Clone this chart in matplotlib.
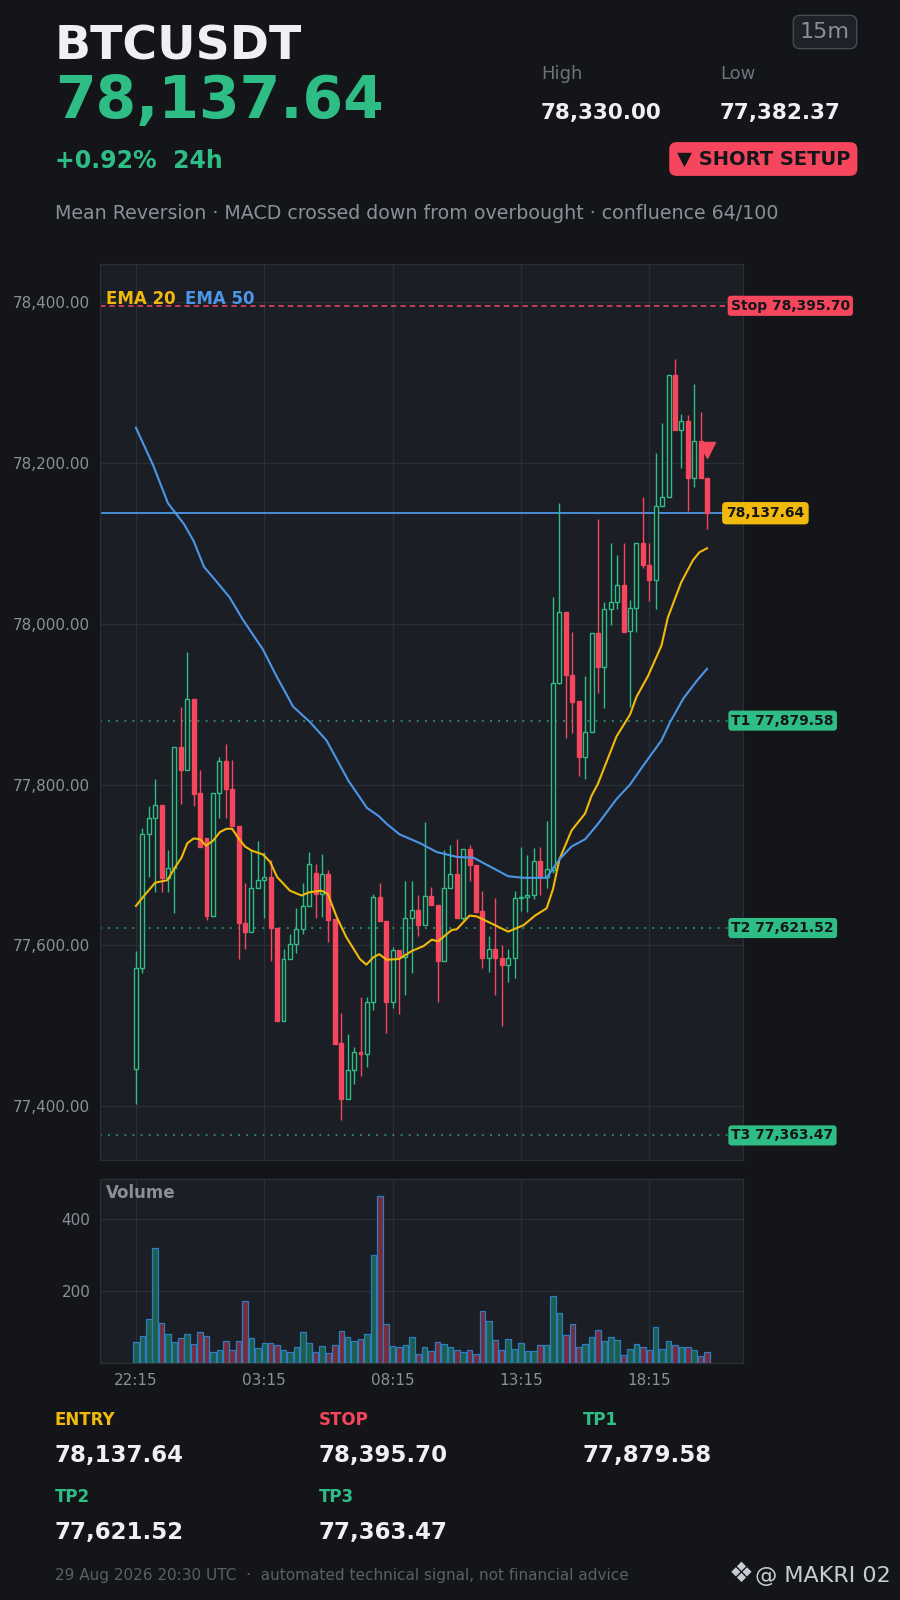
import numpy as np
import matplotlib.pyplot as plt
from matplotlib.ticker import FuncFormatter

# ---- header / signal values ----
symbol = "BTCUSDT"
timeframe = "15m"
last_price = 78137.64
change_24h = "+0.92%"
day_high = 78330.00
day_low = 77382.37
setup_text = "\u25BC SHORT SETUP"
reason_text = "Mean Reversion \u00b7 MACD crossed down from overbought \u00b7 confluence 64/100"
stamp_text = "29 Aug 2026 20:30 UTC  \u00b7  automated technical signal, not financial advice"
brand_text = "@ MAKRI 02"

entry = 78137.64
stop = 78395.70
tp1 = 77879.58
tp2 = 77621.52
tp3 = 77363.47

# ---- 15m candles, 22:15 -> 20:30 ----
opens = [77446, 77572, 77739, 77759, 77775, 77684, 77696, 77847, 77818, 77906,
         77789, 77734, 77637, 77790, 77829, 77795, 77748, 77628, 77617, 77671,
         77681, 77685, 77622, 77506, 77583, 77602, 77620, 77649, 77690, 77664,
         77689, 77633, 77478, 77409, 77445, 77467, 77465, 77529, 77660, 77630,
         77530, 77594, 77586, 77634, 77644, 77625, 77661, 77650, 77580, 77671,
         77689, 77634, 77720, 77700, 77643, 77584, 77596, 77584, 77575, 77584,
         77659, 77660, 77663, 77705, 77685, 77694, 77927, 78015, 77936, 77904,
         77834, 77865, 77989, 77946, 78018, 78027, 78048, 77991, 78020, 78100,
         78073, 78054, 78147, 78158, 78310, 78241, 78252, 78181, 78228, 78182]
highs = [77593, 77746, 77773, 77807, 77775, 77719, 77847, 77897, 77965, 77906,
         77818, 77734, 77790, 77834, 77850, 77830, 77748, 77677, 77718, 77730,
         77716, 77706, 77622, 77595, 77614, 77646, 77678, 77716, 77701, 77714,
         77694, 77633, 77516, 77490, 77474, 77536, 77536, 77664, 77677, 77630,
         77598, 77594, 77680, 77680, 77662, 77754, 77672, 77650, 77718, 77725,
         77732, 77720, 77725, 77700, 77667, 77611, 77659, 77600, 77596, 77667,
         77722, 77713, 77721, 77722, 77755, 78034, 78150, 78015, 77990, 77904,
         77935, 77989, 78130, 78027, 78100, 78086, 78100, 78030, 78100, 78158,
         78100, 78212, 78250, 78310, 78330, 78261, 78260, 78299, 78263, 78182]
lows = [77402, 77565, 77685, 77666, 77666, 77666, 77640, 77776, 77818, 77773,
        77722, 77631, 77637, 77759, 77759, 77748, 77583, 77595, 77617, 77671,
        77634, 77580, 77506, 77506, 77583, 77590, 77614, 77649, 77634, 77635,
        77604, 77477, 77382.37, 77409, 77427, 77437, 77449, 77519, 77630, 77491,
        77522, 77514, 77538, 77565, 77611, 77625, 77650, 77530, 77580, 77671,
        77634, 77631, 77680, 77642, 77572, 77567, 77538, 77500, 77554, 77559,
        77643, 77641, 77658, 77663, 77671, 77690, 77925, 77858, 77864, 77811,
        77807, 77865, 77914, 77895, 77999, 78018, 77990, 77896, 77990, 78070,
        78029, 78019, 78147, 78158, 78241, 78194, 78140, 78170, 78182, 78118]
closes = [77572, 77739, 77759, 77775, 77684, 77696, 77847, 77818, 77906, 77788,
          77722, 77636, 77790, 77829, 77795, 77748, 77628, 77617, 77671, 77681,
          77685, 77622, 77506, 77583, 77602, 77620, 77649, 77701, 77664, 77689,
          77632, 77477, 77409, 77445, 77467, 77465, 77529, 77660, 77630, 77530,
          77594, 77586, 77634, 77644, 77625, 77661, 77650, 77580, 77671, 77689,
          77634, 77720, 77700, 77642, 77584, 77596, 77584, 77575, 77584, 77659,
          77660, 77663, 77705, 77685, 77695, 77927, 78015, 77936, 77903, 77834,
          77865, 77989, 77946, 78018, 78027, 78048, 77990, 78020, 78100, 78073,
          78054, 78147, 78158, 78310, 78241, 78252, 78181, 78228, 78182, 78137.64]
volumes = [59, 76, 123, 319, 112, 82, 59, 70, 82, 53,
           87, 76, 31, 37, 62, 37, 62, 173, 70, 42,
           56, 56, 51, 37, 31, 45, 87, 56, 31, 48,
           28, 51, 89, 73, 62, 67, 82, 300, 465, 109,
           48, 45, 51, 73, 26, 45, 34, 59, 53, 45,
           37, 31, 37, 26, 145, 117, 64, 37, 67, 40,
           56, 34, 34, 51, 51, 186, 139, 78, 109, 45,
           53, 73, 92, 62, 73, 64, 23, 40, 53, 45,
           37, 100, 40, 62, 51, 45, 45, 37, 20, 31]

# EMA values (candle index, price)
ema20_x = [0, 1.1, 3, 4.9, 6.1, 7.1, 8, 9, 10, 10.9, 12, 13.1, 14.1, 15, 15.9, 17, 18,
           19.8, 20.9, 22, 24, 25.8, 27, 28.9, 29.9, 31.3, 32.8, 34.9, 35.9, 37, 37.9,
           39.1, 41, 43, 44.8, 46.1, 47.1, 49.2, 50, 52, 53.1, 55.2, 58, 60.4, 62.2, 64,
           65, 66, 67.9, 70, 71, 72, 74.9, 77, 78, 79.8, 81.9, 82.9, 85, 86.8, 87.8, 89]
ema20_y = [77649, 77660, 77678, 77681, 77697, 77709, 77727, 77733, 77732, 77724, 77730,
           77741, 77745, 77745, 77734, 77723, 77718, 77713, 77704, 77685, 77668, 77662,
           77666, 77668, 77664, 77635, 77610, 77583, 77576, 77585, 77589, 77582, 77583,
           77593, 77599, 77607, 77605, 77619, 77620, 77637, 77636, 77628, 77617, 77625,
           77637, 77646, 77670, 77707, 77743, 77764, 77786, 77801, 77860, 77887, 77909,
           77935, 77973, 78008, 78052, 78079, 78089, 78094]
ema50_x = [0, 2.7, 5, 7.5, 9, 10.6, 12.2, 14.6, 16.6, 19.8, 21.9, 24.5, 27.1, 29.7,
           33.1, 36, 37.8, 39.1, 41.1, 44.3, 46.9, 50, 52.6, 55.2, 58, 60.4, 64, 66,
           67.9, 70, 72, 74.9, 77, 79, 81.9, 83.2, 85.3, 87.4, 89]
ema50_y = [78244, 78197, 78150, 78124, 78103, 78071, 78056, 78033, 78006, 77968, 77935,
           77897, 77878, 77855, 77805, 77771, 77761, 77751, 77738, 77727, 77716, 77710,
           77709, 77698, 77686, 77684, 77684, 77707, 77723, 77732, 77751, 77782, 77800,
           77823, 77855, 77877, 77907, 77929, 77944]

tick_idx = [0, 20, 40, 60, 80]
tick_labels = ["22:15", "03:15", "08:15", "13:15", "18:15"]
price_ticks = [77400, 77600, 77800, 78000, 78200, 78400]
vol_ticks = [200, 400]

# ---- colours ----
BG = '#141519'
PANEL = '#1b1e25'
GRID = '#2a2e37'
DIM = '#8a8f98'
WHITE = '#eef0f3'
GREEN = '#2EBD85'
RED = '#F6465D'
YELLOW = '#F0B90B'
BLUE = '#4b96e6'


def px(x, y):
    """pixel position (from top-left) -> figure fraction"""
    return x / 900, 1 - y / 1600


fig = plt.figure(figsize=(9, 16), dpi=100, facecolor=BG)
ax = fig.add_axes([0.1111, 0.2748, 0.7144, 0.56], facecolor=PANEL)
axv = fig.add_axes([0.1111, 0.1479, 0.7144, 0.1152], facecolor=PANEL)

o = np.array(opens, float)
h = np.array(highs, float)
l = np.array(lows, float)
c = np.array(closes, float)
n = len(c)
idx = np.arange(n)
up = c >= o

# candles: hollow green, filled red
cols = [GREEN if u else RED for u in up]
ax.vlines(idx, l, h, colors=cols, lw=1.0, zorder=3)
body_lo = np.minimum(o, c)
body_h = np.maximum(np.abs(c - o), 1.2)
ax.bar(idx, body_h, bottom=body_lo, width=0.62,
       facecolor=[PANEL if u else RED for u in up], edgecolor=cols, lw=1.0, zorder=4)

ax.plot(ema20_x, ema20_y, color=YELLOW, lw=1.5, zorder=5)
ax.plot(ema50_x, ema50_y, color=BLUE, lw=1.5, zorder=5)

# levels
ax.axhline(stop, color=RED, lw=1.3, ls=(0, (3, 2.2)), alpha=0.85, zorder=2)
ax.axhline(entry, color=BLUE, lw=1.3, zorder=2)
for tp in (tp1, tp2, tp3):
    ax.axhline(tp, color=GREEN, lw=1.3, ls=(0, (1, 3.5)), alpha=0.75, zorder=2)

span = stop - tp3
ax.plot(n - 1, h[-1] + 0.033 * span, marker='v', ms=11, color=RED, zorder=6)

lab_kw = dict(fontsize=10, fontweight='bold', color='#15161a', va='center', ha='left',
              clip_on=False, zorder=7)
ax.text(n + 2.7, stop, f"Stop {stop:,.2f}",
        bbox=dict(boxstyle='round,pad=0.22', fc=RED, ec='none'), **lab_kw)
ax.text(n + 2.0, entry, f"{entry:,.2f}",
        bbox=dict(boxstyle='round,pad=0.3', fc=YELLOW, ec='none'), **lab_kw)
for name, tp in (("T1", tp1), ("T2", tp2), ("T3", tp3)):
    ax.text(n + 2.8, tp, f"{name} {tp:,.2f}",
            bbox=dict(boxstyle='round,pad=0.22', fc=GREEN, ec='none'), **lab_kw)

ax.set_xlim(-5.6, n + 4.6)
ax.set_ylim(tp3 - 0.03 * span, stop + 0.05 * span)
ax.set_xticks(tick_idx)
ax.set_yticks(price_ticks)
ax.yaxis.set_major_formatter(FuncFormatter(lambda v, _: f"{v:,.2f}"))
ax.tick_params(labelbottom=False, length=0, labelsize=11, labelcolor=DIM, pad=7)
ax.grid(True, color=GRID, lw=0.9)
ax.set_axisbelow(True)

ax.text(0.0093, 0.9557, "EMA 20", transform=ax.transAxes, color=YELLOW,
        fontsize=12, fontweight='bold', va='baseline')
ax.text(0.132, 0.9557, "EMA 50", transform=ax.transAxes, color=BLUE,
        fontsize=12, fontweight='bold', va='baseline')

# volume
vcols = ['#1f5e4b' if u else '#7a2b3b' for u in up]
axv.bar(idx, volumes, width=0.86, color=vcols, edgecolor='#2a7fc4', lw=0.9, zorder=3)
axv.set_xlim(ax.get_xlim())
axv.set_ylim(0, max(volumes) * 1.1)
axv.set_xticks(tick_idx)
axv.set_xticklabels(tick_labels)
axv.set_yticks(vol_ticks)
axv.tick_params(length=0, labelsize=11, labelcolor=DIM, pad=7)
axv.grid(True, color=GRID, lw=0.9)
axv.set_axisbelow(True)
axv.text(0.0093, 0.895, "Volume", transform=axv.transAxes, color=DIM,
         fontsize=12, fontweight='bold', va='baseline')

for a in (ax, axv):
    for s in a.spines.values():
        s.set_color(GRID)
        s.set_linewidth(0.9)

# ---- header ----
fig.text(*px(55, 60), symbol, color=WHITE, fontsize=34, fontweight='bold', va='baseline')
fig.text(*px(55, 118), f"{last_price:,.2f}", color=GREEN, fontsize=42,
         fontweight='bold', va='baseline')
fig.text(*px(55, 168.5), f"{change_24h}  24h", color=GREEN, fontsize=17,
         fontweight='bold', va='baseline')
fig.text(*px(55, 219), reason_text, color=DIM, fontsize=13.7, va='baseline')

fig.text(*px(541, 79), "High", color='#6e737c', fontsize=13, va='baseline')
fig.text(*px(720, 79), "Low", color='#6e737c', fontsize=13, va='baseline')
fig.text(*px(541, 118.5), f"{day_high:,.2f}", color=WHITE, fontsize=15.5,
         fontweight='bold', va='baseline')
fig.text(*px(720, 118.5), f"{day_low:,.2f}", color=WHITE, fontsize=15.5,
         fontweight='bold', va='baseline')

fig.text(*px(850, 32), timeframe, color=DIM, fontsize=16, ha='right', va='center',
         bbox=dict(boxstyle='round,pad=0.3', fc='#1e2127', ec='#464b54', lw=1))
fig.text(*px(850, 159), setup_text, color='#15161a', fontsize=14, fontweight='bold',
         ha='right', va='center',
         bbox=dict(boxstyle='round,pad=0.38', fc=RED, ec='none'))

# ---- footer levels ----
levels = [("ENTRY", entry, YELLOW, 55, 0), ("STOP", stop, RED, 319, 0),
          ("TP1", tp1, GREEN, 583, 0), ("TP2", tp2, GREEN, 55, 1),
          ("TP3", tp3, GREEN, 319, 1)]
for name, val, col, x0, row in levels:
    y0 = 1425 + row * 76.7
    fig.text(*px(x0, y0), name, color=col, fontsize=12, fontweight='bold', va='baseline')
    fig.text(*px(x0, y0 + 37), f"{val:,.2f}", color=WHITE, fontsize=16.5,
             fontweight='bold', va='baseline')

fig.text(*px(55, 1580), stamp_text, color='#5a5f68', fontsize=11, va='baseline')
fig.text(*px(891, 1582), brand_text, color='#c8ccd2', fontsize=16, ha='right',
         va='baseline')
fig.text(*px(754, 1574), "\u2756", color='#c8ccd2', fontsize=20, ha='right',
         va='center')

fig.savefig("out.png", dpi=100, facecolor=BG)
